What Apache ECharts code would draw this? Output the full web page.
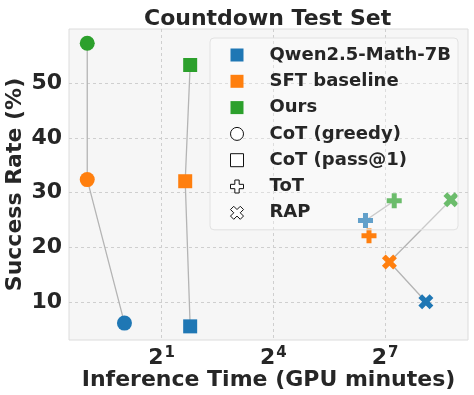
<!DOCTYPE html>
<html><head><meta charset="utf-8">
<script src="https://cdn.jsdelivr.net/npm/echarts@6/dist/echarts.min.js"></script>
<style>html,body{margin:0;padding:0;background:#fff}#c{width:474px;height:395px}</style>
</head><body><div id="c"></div>
<script>
// ---- data ----
const models = ['Qwen2.5-Math-7B', 'SFT baseline', 'Ours'];
const methods = ['CoT (greedy)', 'CoT (pass@1)', 'ToT', 'RAP'];
// inference time (GPU minutes), order: Qwen, SFT, Ours
const cotGreedyTime = [1.0, 0.5, 0.5];
const cotGreedyRate = [6.1, 32.4, 57.4];
const cotPassTime = [3.4, 3.1, 3.4];
const cotPassRate = [5.5, 32.1, 53.4];
const totTime = [89, 95, 152];
const totRate = [24.9, 22.1, 28.5];
const rapTime = [274, 139, 437];
const rapRate = [10.0, 17.3, 28.7];
const xTickExps = [1, 4, 7];
const yTicks = [10, 20, 30, 40, 50];

// ---- styles ----
const colors = ['#1f77b4', '#ff7f0e', '#2ca02c'];
const RECT = 'path://M0,0H1V1H0Z';
const PLUS = 'path://M1,0H2V1H3V2H2V3H1V2H0V1H1Z';
const XSYM = 'path://M2,-1L1,0L2,1L1,2L0,1L-1,2L-2,1L-1,0L-2,-1L-1,-2L0,-1L1,-2Z';
const FONT = 'DejaVu Sans';
const TXT = '#262626';

const groups = [
  {name: methods[0], t: cotGreedyTime, r: cotGreedyRate, symbol: 'circle', size: 15, chain: [2,1,0]},
  {name: methods[1], t: cotPassTime, r: cotPassRate, symbol: 'rect', size: 14, chain: [2,1,0]},
  {name: methods[2], t: totTime, r: totRate, symbol: PLUS, size: 15, chain: [0,2]},
  {name: methods[3], t: rapTime, r: rapRate, symbol: XSYM, size: 15, chain: [2,1,0]}
];
const legendIcons = ['circle', RECT, PLUS, XSYM];

const series = [];
groups.forEach((g, gi) => {
  series.push({
    type: 'line', name: 'link' + gi, silent: true, z: 1,
    symbol: 'none', lineStyle: {color: '#b4b4b4', width: 1.3},
    data: g.chain.map(i => [Math.log2(g.t[i]), g.r[i]])
  });
  series.push({
    type: 'scatter', name: 'pts' + gi, z: 3, symbol: g.symbol, symbolSize: g.size,
    itemStyle: {opacity: 1},
    data: g.t.map((t, i) => ({value: [Math.log2(t), g.r[i]],
      itemStyle: {opacity: 1, color: colors[i]}}))
  });
});
// legend-only series
const legendData = [];
models.forEach((m, i) => {
  series.push({type: 'scatter', name: m, data: [], symbol: RECT, itemStyle: {color: colors[i], opacity: 1}});
  legendData.push({name: m, icon: RECT, itemStyle: {color: colors[i], borderWidth: 0, opacity: 1}});
});
groups.forEach((g, gi) => {
  series.push({type: 'scatter', name: g.name, data: [], symbol: legendIcons[gi], itemStyle: {color: '#fff', borderColor: '#111', borderWidth: 1, opacity: 1}});
  legendData.push({name: g.name, icon: legendIcons[gi], itemStyle: {color: '#fff', borderColor: '#111', borderWidth: 1, opacity: 1}});
});

const chart = echarts.init(document.getElementById('c'), null, {renderer: 'canvas'});
chart.setOption({
  animation: false,
  backgroundColor: '#fff',
  title: {text: 'Countdown Test Set', left: 139, top: 3,
    textStyle: {fontFamily: FONT, fontWeight: 'bold', fontSize: 22, color: TXT}},
  grid: {left: 69, right: 6, top: 29, bottom: 55, outerBoundsMode: 'none', containLabel: false,
    show: true, backgroundColor: '#f6f6f6', borderColor: '#dcdcdc', borderWidth: 1},
  legend: {
    data: legendData, orient: 'vertical', left: 210, top: 38, z: 10,
    itemWidth: 13, itemHeight: 13, itemGap: 8.3,
    padding: [8, 7, 8, 20],
    backgroundColor: 'rgba(255,255,255,0.3)', borderColor: '#e2e2e2', borderWidth: 1, borderRadius: 4,
    formatter: n => '{g|}{t|' + n + '}',
    textStyle: {fontFamily: FONT, fontWeight: 'bold', fontSize: 18, color: TXT,
      rich: {g: {width: 21}, t: {fontFamily: FONT, fontWeight: 'bold', fontSize: 18, color: TXT}}}
  },
  xAxis: {
    type: 'value', min: -1.49, max: 9.23,
    name: 'Inference Time (GPU minutes)', nameLocation: 'middle', nameGap: 29, nameMoveOverlap: false,
    nameTextStyle: {fontFamily: FONT, fontWeight: 'bold', fontSize: 22, color: TXT, verticalAlign: 'top'},
    axisLine: {show: false},
    axisTick: {show: false, customValues: xTickExps},
    axisLabel: {customValues: xTickExps, margin: 6, color: TXT,
      formatter: v => '{b|2}{s|' + v + '}',
      rich: {b: {fontFamily: FONT, fontWeight: 'bold', fontSize: 22, color: TXT},
             s: {fontFamily: FONT, fontWeight: 'bold', fontSize: 15, color: TXT, padding: [0, 0, 10, 1]}}},
    splitLine: {show: true, lineStyle: {color: '#cfcfcf', type: [3, 3], width: 1}}
  },
  yAxis: {
    type: 'value', min: 3, max: 60,
    name: 'Success Rate (%)', nameLocation: 'middle', nameGap: 43, nameMoveOverlap: false,
    nameTextStyle: {fontFamily: FONT, fontWeight: 'bold', fontSize: 22, color: TXT},
    axisLine: {show: false},
    axisTick: {show: false, customValues: yTicks},
    axisLabel: {customValues: yTicks, margin: 7, fontFamily: FONT, fontWeight: 'bold', fontSize: 22, color: TXT},
    splitLine: {show: true, lineStyle: {color: '#cfcfcf', type: [3, 3], width: 1}}
  },
  series: series
});
</script></body></html>
